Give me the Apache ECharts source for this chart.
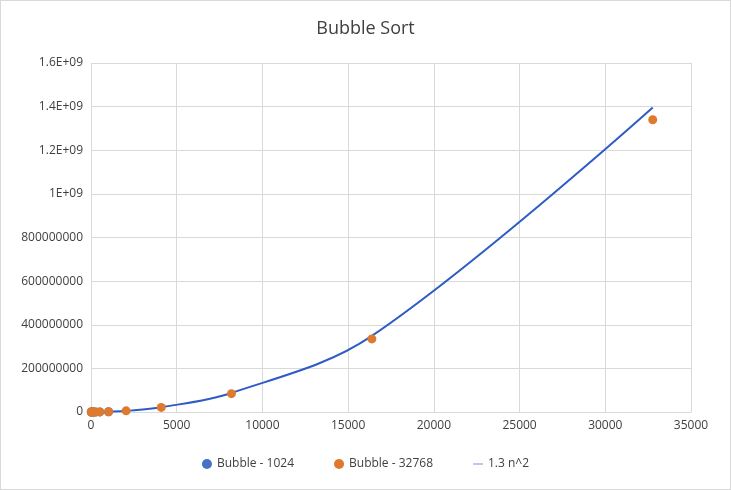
<!DOCTYPE html>
<html>
<head>
<meta charset="utf-8"/>
<title>Bubble Sort</title>
<script src="https://cdn.jsdelivr.net/npm/echarts@6/dist/echarts.min.js"></script>
<style>body{margin:0;background:#fff}</style>
</head>
<body>
<div id="main" style="width:729px;height:488px;border:1px solid #d9d9d9"></div>
<script type="text/javascript">
var sizes = [16, 32, 64, 128, 256, 512, 1024, 2048, 4096, 8192, 16384, 32768];
var small = [0, 0, 0, 0, 100000, 300000, 1300000];
var large = [0, 0, 0, 0, 100000, 300000, 1300000, 5200000, 21000000, 84000000, 335000000, 1340000000];
var model = [333, 1331, 5325, 21299, 85197, 340787, 1363149, 5452595, 21810381, 87241523, 348966093, 1395864371];

function pairs(v) { return v.map(function (y, i) { return [sizes[i], y]; }); }

var chart = echarts.init(document.getElementById('main'));
chart.setOption({
    textStyle: { fontFamily: 'Open Sans, Liberation Sans, sans-serif' },
    title: { text: 'Bubble Sort', left: 'center', top: 14, textStyle: { fontSize: 18, fontWeight: 'normal', color: '#404040' } },
    legend: {
        bottom: 14, itemGap: 40, itemWidth: 10, itemHeight: 10, textStyle: { color: '#404040', fontSize: 12 },
        data: [
            { name: 'Bubble - 1024', icon: 'circle' },
            { name: 'Bubble - 32768', icon: 'circle' },
            { name: '1.3 n^2', icon: 'path://M0,4 L30,4 L30,6 L0,6 Z', itemStyle: { color: '#2f5cc4' } }
        ]
    },
    grid: { left: 90, right: 39, top: 62, bottom: 77 },
    xAxis: {
        type: 'value', min: 0, max: 35000, interval: 5000,
        axisLine: { lineStyle: { color: '#d9d9d9' } }, axisTick: { show: false },
        axisLabel: { color: '#404040', fontSize: 12, formatter: function (v) { return String(v); } },
        splitLine: { lineStyle: { color: '#d9d9d9' } }
    },
    yAxis: {
        type: 'value', min: 0, max: 1600000000, interval: 200000000,
        axisLine: { show: false }, axisTick: { show: false },
        axisLabel: { color: '#404040', fontSize: 12, formatter: function (v) {
            if (v >= 1e9) return (v / 1e9) + 'E+09';
            return String(v);
        } },
        splitLine: { lineStyle: { color: '#d9d9d9' } }
    },
    series: [
        { name: '1.3 n^2', type: 'line', data: pairs(model), smooth: 0.35, showSymbol: false, symbol: 'none', lineStyle: { color: '#2f5cc4', width: 2 }, itemStyle: { color: '#2f5cc4' }, z: 1 },
        { name: 'Bubble - 1024', type: 'scatter', data: pairs(small), symbolSize: 9, itemStyle: { color: '#4472c4', opacity: 1 }, z: 2 },
        { name: 'Bubble - 32768', type: 'scatter', data: pairs(large), symbolSize: 9, itemStyle: { color: '#dd7a30', opacity: 1 }, z: 3 }
    ]
});
</script>
</body>
</html>
